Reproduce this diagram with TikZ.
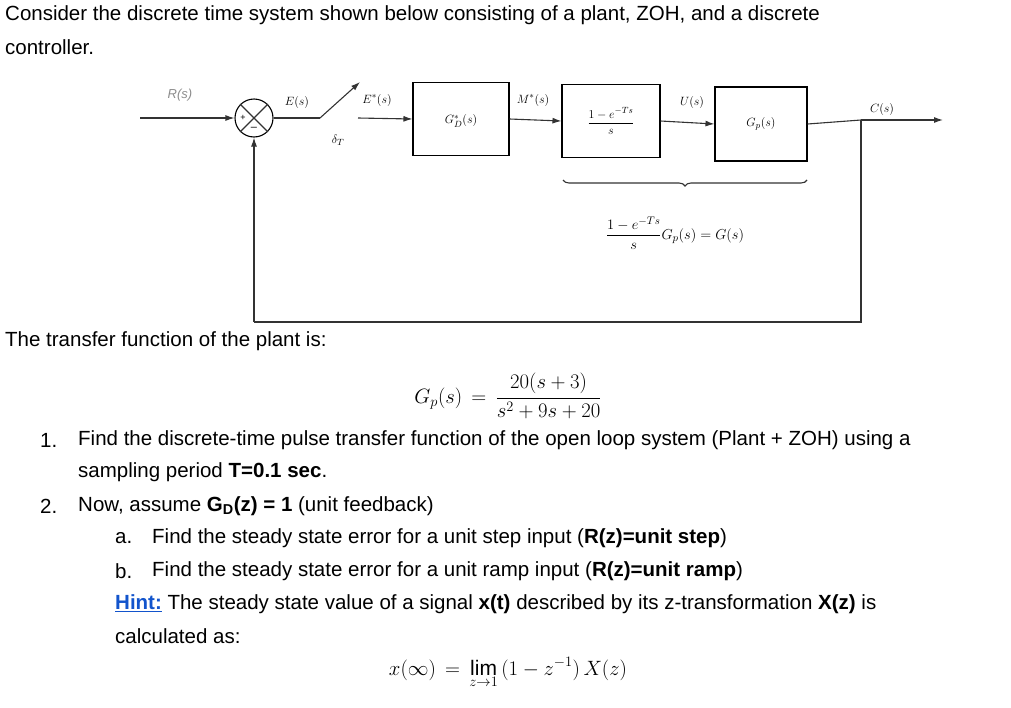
\documentclass[tikz,border=0pt]{standalone}
\usepackage{fontspec}
\setmainfont{Liberation Sans}
\newfontfamily\diagfont{Liberation Sans}
\usetikzlibrary{arrows.meta,decorations.pathreplacing}
\begin{document}
\begin{tikzpicture}[x=1pt,y=-1pt,
  txt/.style={anchor=west,inner sep=0,font=\fontsize{20.5}{24}\selectfont},
  blk/.style={draw,line width=1.1pt,inner sep=0},
  dl/.style={inner sep=0,font=\diagfont\itshape\fontsize{13}{15}\selectfont},
  ln/.style={line width=1.1pt,draw=black!80},
  arr/.style={ln,-{Latex[length=9pt,width=6pt]}}]
\useasboundingbox (0,0) rectangle (1011,707);
\node[txt] (t1) at (5,15) {Consider the discrete time system shown below consisting of a plant, ZOH, and a discrete};
\node[txt] (t2) at (5,47) {controller.};
% diagram
\coordinate (in) at (140,118);
\node[draw,circle,line width=1.1pt,minimum size=38pt,inner sep=0] (sum) at (254,118) {};
\draw[ln] (sum.north west)--(sum.south east) (sum.north east)--(sum.south west);
\node[inner sep=0,font=\fontsize{9}{9}\selectfont] (plus) at (243,118) {+};
\node[inner sep=0,font=\fontsize{11}{11}\selectfont] (minus) at (254,129) {--};
\node[dl,text=black!45] (R) at (180,95) {R(s)};
\coordinate (piv) at (320,118);
\coordinate (swe) at (360,82);
\coordinate (sws) at (358,118);
\node[blk,minimum width=96pt,minimum height=73pt] (gd) at (461,119) {};
\node[dl] (gdt) at (461,121) {$G_D^*(s)$};
\node[blk,minimum width=98pt,minimum height=73pt] (zoh) at (611,121) {};
\node[dl] (zt) at (611,121) {$\displaystyle\frac{1-e^{-Ts}}{s}$};
\node[blk,minimum width=92pt,minimum height=74pt] (gp) at (761,124) {};
\node[dl] (gpt) at (761,124) {$G_p(s)$};
\coordinate (br) at (861,120);
\coordinate (out) at (943,120);
\coordinate (bot) at (861,322);
\coordinate (bl) at (254,322);
\draw[arr] (in)--(sum.west);
\draw[ln] (sum.east)--(piv);
\draw[ln,-{Latex[length=9pt,width=6pt]}] (piv)--(swe);
\draw[arr] (sws)--(gd.west);
\draw[arr] (gd.east)--(zoh.west);
\draw[arr] (zoh.east)--(gp.west);
\draw[ln] (gp.east)--(br);
\draw[arr] (br)--(out);
\draw[ln] (br)--(bot)--(bl);
\draw[arr] (bl)--(sum.south);
\node[dl] (E) at (297,102) {$E(s)$};
\node[dl] (dT) at (338,140) {$\delta_T$};
\node[dl] (Es) at (377,100) {$E^*(s)$};
\node[dl] (Ms) at (533,100) {$M^*(s)$};
\node[dl] (U) at (692,102) {$U(s)$};
\node[dl] (C) at (882,109) {$C(s)$};
\coordinate (b1) at (563,180);
\coordinate (b2) at (807,180);
\draw[ln,decorate,decoration={brace,amplitude=6pt}] (b2)--(b1);
\node[inner sep=0,font=\fontsize{15}{17}\selectfont] (geq) at (675,233) {$\displaystyle\frac{1-e^{-Ts}}{s}G_p(s)=G(s)$};
% text
\node[txt] (t3) at (5,341) {The transfer function of the plant is:};
\node[inner sep=0,font=\fontsize{21}{24}\selectfont] (eq1) at (508,396) {$\displaystyle G_p(s)\,=\,\frac{20(s+3)}{s^2+9s+20}$};
\node[txt] (n1) at (40,440) {1.};
\node[txt] (l1) at (78,440) {Find the discrete-time pulse transfer function of the open loop system (Plant + ZOH) using a};
\node[txt] (l2) at (78,472) {sampling period \textbf{T=0.1 sec}.};
\node[txt] (n2) at (40,506) {2.};
\node[txt] (l3) at (78,506) {Now, assume \textbf{G\textsubscript{D}(z) = 1} (unit feedback)};
\node[txt] (na) at (115,538) {a.};
\node[txt] (la) at (152,538) {Find the steady state error for a unit step input (\textbf{R(z)=unit step})};
\node[txt] (nb) at (115,571) {b.};
\node[txt] (lb) at (152,571) {Find the steady state error for a unit ramp input (\textbf{R(z)=unit ramp})};
\node[txt] (h1) at (115,604) {\textcolor[rgb]{0.07,0.33,0.8}{\textbf{\underline{Hint:}}} The steady state value of a signal \textbf{x(t)} described by its z-transformation \textbf{X(z)} is};
\node[txt] (h2) at (115,636) {calculated as:};
\node[inner sep=0,font=\fontsize{21}{24}\selectfont,anchor=north] (eq2) at (508,657) {$\displaystyle x(\infty)\,=\,\lim_{z\to1}\,(1-z^{-1})\,X(z)$};
\end{tikzpicture}
\end{document}
